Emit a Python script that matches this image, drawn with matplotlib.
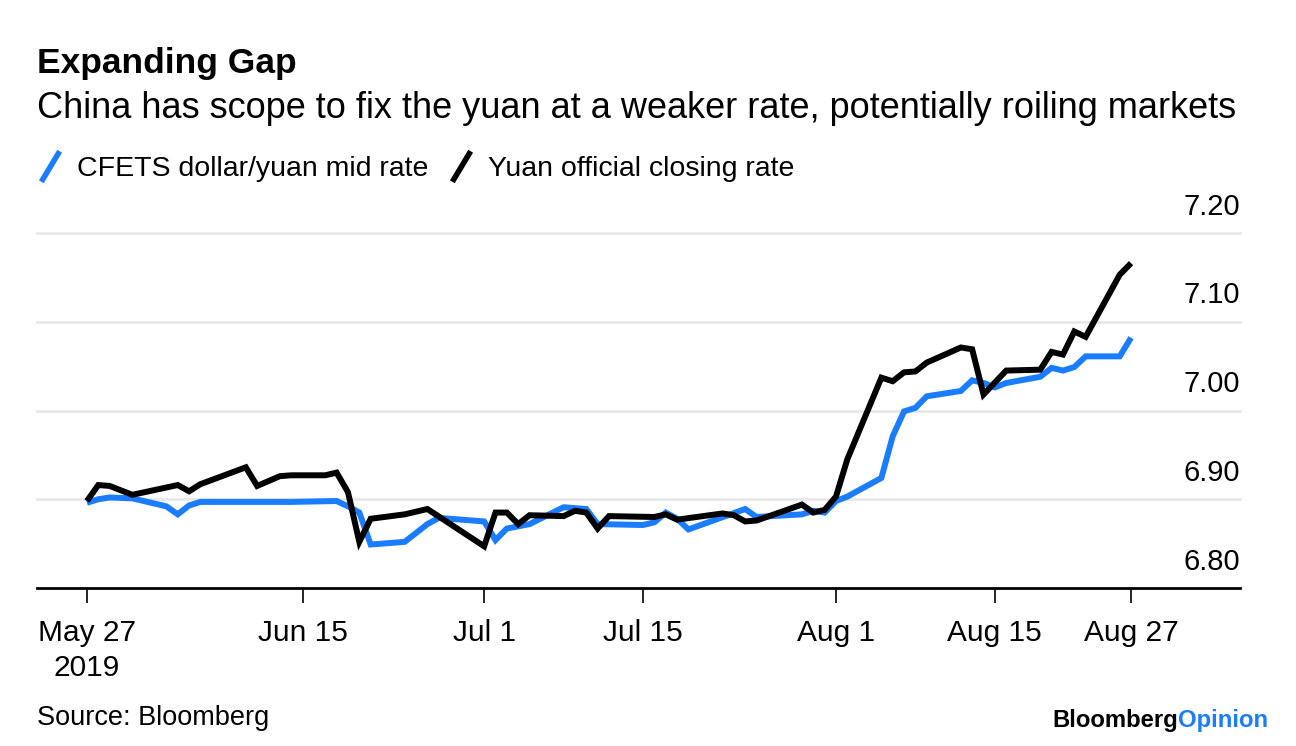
import numpy as np
import matplotlib
matplotlib.use("Agg")
import matplotlib.pyplot as plt
import matplotlib.dates as mdates
from matplotlib.lines import Line2D

plt.rcParams["font.family"] = ["Liberation Sans", "DejaVu Sans"]

# CFETS dollar/yuan mid rate (vertices)
mid_dates = np.array([
    "2019-05-27", "2019-05-28", "2019-05-29", "2019-05-31", "2019-06-03",
    "2019-06-04", "2019-06-05", "2019-06-06", "2019-06-10", "2019-06-14",
    "2019-06-18", "2019-06-19", "2019-06-20", "2019-06-21", "2019-06-24",
    "2019-06-26", "2019-06-27", "2019-07-01", "2019-07-02", "2019-07-03",
    "2019-07-05", "2019-07-08", "2019-07-10", "2019-07-11", "2019-07-15",
    "2019-07-16", "2019-07-17", "2019-07-18", "2019-07-19", "2019-07-24",
    "2019-07-25", "2019-07-29", "2019-07-30", "2019-07-31", "2019-08-01",
    "2019-08-02", "2019-08-05", "2019-08-06", "2019-08-07", "2019-08-08",
    "2019-08-09", "2019-08-12", "2019-08-13", "2019-08-14", "2019-08-15",
    "2019-08-16", "2019-08-19", "2019-08-20", "2019-08-21", "2019-08-22",
    "2019-08-23", "2019-08-26", "2019-08-27"], dtype="datetime64[D]")
mid_rate = [
    6.896, 6.900, 6.902, 6.901, 6.892,
    6.883, 6.893, 6.897, 6.897, 6.897,
    6.898, 6.892, 6.885, 6.849, 6.852,
    6.872, 6.879, 6.875, 6.854, 6.867,
    6.872, 6.891, 6.889, 6.872, 6.871,
    6.874, 6.885, 6.878, 6.866, 6.889,
    6.880, 6.883, 6.887, 6.885, 6.898,
    6.903, 6.924, 6.971, 6.999, 7.003,
    7.016, 7.022, 7.034, 7.031, 7.026,
    7.031, 7.038, 7.048, 7.045, 7.049,
    7.061, 7.061, 7.082]

# Yuan official closing rate
close_dates = np.array([
    "2019-05-27", "2019-05-28", "2019-05-29", "2019-05-31", "2019-06-04",
    "2019-06-05", "2019-06-06", "2019-06-10", "2019-06-11", "2019-06-13",
    "2019-06-14", "2019-06-17", "2019-06-18", "2019-06-19", "2019-06-20",
    "2019-06-21", "2019-06-24", "2019-06-26", "2019-07-01", "2019-07-02",
    "2019-07-03", "2019-07-04", "2019-07-05", "2019-07-08", "2019-07-09",
    "2019-07-10", "2019-07-11", "2019-07-12", "2019-07-16", "2019-07-17",
    "2019-07-18", "2019-07-22", "2019-07-23", "2019-07-24", "2019-07-25",
    "2019-07-29", "2019-07-30", "2019-07-31", "2019-08-01", "2019-08-02",
    "2019-08-05", "2019-08-06", "2019-08-07", "2019-08-08", "2019-08-09",
    "2019-08-12", "2019-08-13", "2019-08-14", "2019-08-16", "2019-08-19",
    "2019-08-20", "2019-08-21", "2019-08-22", "2019-08-23", "2019-08-26",
    "2019-08-27"], dtype="datetime64[D]")
close_rate = [
    6.898, 6.916, 6.915, 6.905, 6.916,
    6.909, 6.917, 6.936, 6.915, 6.926,
    6.927, 6.927, 6.930, 6.908, 6.852,
    6.878, 6.883, 6.889, 6.847, 6.885,
    6.885, 6.872, 6.882, 6.881, 6.887,
    6.885, 6.867, 6.881, 6.880, 6.883,
    6.877, 6.884, 6.882, 6.875, 6.876,
    6.894, 6.885, 6.888, 6.903, 6.945,
    7.037, 7.033, 7.043, 7.044, 7.054,
    7.071, 7.069, 7.018, 7.045, 7.046,
    7.066, 7.063, 7.089, 7.083, 7.153,
    7.166]

tick_dates = np.array(["2019-05-27", "2019-06-15", "2019-07-01", "2019-07-15",
                       "2019-08-01", "2019-08-15", "2019-08-27"], dtype="datetime64[D]")
tick_labels = ["May 27\n2019", "Jun 15", "Jul 1", "Jul 15", "Aug 1", "Aug 15", "Aug 27"]
y_ticks = [6.80, 6.90, 7.00, 7.10, 7.20]

BLUE = "#1a7cff"
GRID = "#e8e8e8"

W, H = 1296, 746
fig = plt.figure(figsize=(W / 100, H / 100), dpi=100)
ax = fig.add_axes([37 / W, 1 - 588 / H, (1240 - 37) / W, (588 - 233) / H])

ax.plot(mdates.date2num(mid_dates), mid_rate, color=BLUE, lw=4.3,
        solid_joinstyle="miter", solid_capstyle="butt", zorder=3)
ax.plot(mdates.date2num(close_dates), close_rate, color="black", lw=4.3,
        solid_joinstyle="miter", solid_capstyle="butt", zorder=4)

x0 = mdates.date2num(np.datetime64("2019-05-27"))
x1 = mdates.date2num(np.datetime64("2019-08-27"))
ax.set_xlim(x0 - 4.4, x1 + 9.6)
ax.set_ylim(6.80, 7.20)

for v in y_ticks[1:]:
    ax.axhline(v, color=GRID, lw=2, zorder=1, clip_on=False)
for v in y_ticks:
    ax.annotate(f"{v:.2f}", xy=(1, v), xycoords=("axes fraction", "data"),
                xytext=(0, 19), textcoords="offset points",
                ha="right", va="center", fontsize=21)

for s in ["top", "right", "left"]:
    ax.spines[s].set_visible(False)
ax.spines["bottom"].set_linewidth(2)
ax.set_yticks([])
ax.set_xticks(mdates.date2num(tick_dates))
ax.set_xticklabels(tick_labels, fontsize=21.5, linespacing=1.35)
ax.tick_params(axis="x", length=11, width=1.2, pad=11, color="black")

fig.text(37 / W, 1 - 64 / H, "Expanding Gap", fontsize=25.5, fontweight="bold",
         va="center", ha="left")
fig.text(37 / W, 1 - 108 / H,
         "China has scope to fix the yuan at a weaker rate, potentially roiling markets",
         fontsize=26, va="center", ha="left")

slash = [(-0.6, -1.0), (0.6, 1.0)]
handles = [Line2D([], [], color=BLUE, marker=slash, markersize=22, markeredgewidth=4,
                  linestyle="none"),
           Line2D([], [], color="black", marker=slash, markersize=22, markeredgewidth=4,
                  linestyle="none")]
fig.legend(handles, ["CFETS dollar/yuan mid rate", "Yuan official closing rate"],
           loc="center left", bbox_to_anchor=(34 / W, 1 - 169 / H), ncol=2,
           frameon=False, fontsize=20.5, borderpad=0, borderaxespad=0,
           handlelength=1.1, handletextpad=0.4, columnspacing=0.6)

fig.text(37 / W, 1 - 718 / H, "Source: Bloomberg", fontsize=19.5, va="center", ha="left")
op = fig.text(1268 / W, 1 - 720 / H, "Opinion", fontsize=17.2, fontweight="bold",
              color=BLUE, va="center", ha="right")
ax.annotate("Bloomberg", xy=(0, 0.5), xycoords=op, ha="right", va="center",
            fontsize=17.2, fontweight="bold", color="black")

fig.savefig("out.png", dpi=100)
